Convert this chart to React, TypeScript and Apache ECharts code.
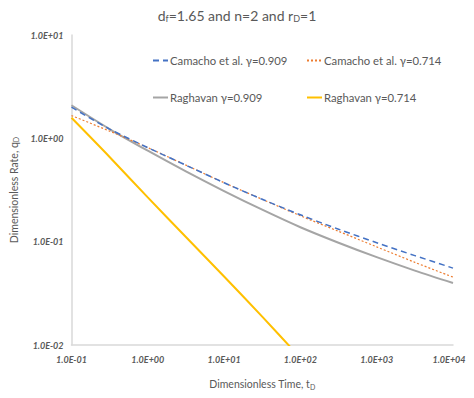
import React, { useEffect, useRef } from "react";
import * as echarts from "echarts";

const times = [0.1, 0.316, 1, 3.16, 10, 31.6, 100, 316, 1000, 3162, 10000];
const camacho909 = [2.0, 1.23, 0.813, 0.55, 0.372, 0.257, 0.182, 0.132, 0.0977, 0.0733, 0.0555];
const camacho714 = [1.66, 1.175, 0.813, 0.55, 0.372, 0.257, 0.178, 0.126, 0.0891, 0.0631, 0.0454];
const raghavan909 = [2.09, 1.23, 0.759, 0.479, 0.309, 0.204, 0.138, 0.0977, 0.0708, 0.0525, 0.0398];
const raghavanTimes = [0.1, 0.316, 1, 3.16, 10, 31.6, 100];
const raghavan714 = [1.58, 0.66, 0.268, 0.111, 0.046, 0.0188, 0.0075];

const names = [
  "Camacho et al. γ=0.909",
  "Camacho et al. γ=0.714",
  "Raghavan γ=0.909",
  "Raghavan γ=0.714",
];

const FONT = "Lato";

function sci(v: number) {
  const e = Math.round(Math.log10(v));
  const sign = e < 0 ? "-" : "+";
  const a = Math.abs(e);
  return "1.0E" + sign + (a < 10 ? "0" + a : String(a));
}

function pairs(xs: number[], ys: number[]) {
  return xs.map((x, i) => [x, ys[i]]);
}

export default function App() {
  const ref = useRef<HTMLDivElement>(null);
  useEffect(() => {
    if (!ref.current) return;
    const chart = echarts.init(ref.current, undefined, { renderer: "svg" });
    const legendText = { fontFamily: FONT, fontSize: 11.3, color: "#595959", padding: [0, 0, 0, -3] };
    const legendPos = [
      { left: 152, top: 55 },
      { left: 306, top: 55 },
      { left: 152, top: 92 },
      { left: 306, top: 92 },
    ];
    const labelFont = {
      fontFamily: FONT,
      fontSize: 9,
      fontStyle: "italic",
      fontWeight: "bold",
      color: "#595959",
    };
    chart.setOption({
      animation: false,
      backgroundColor: "#ffffff",
      title: {
        text: "d{sub|f}=1.65 and n=2 and r{sub|D}=1",
        left: "center",
        top: 3,
        textStyle: {
          fontFamily: FONT,
          fontSize: 14,
          fontWeight: "normal",
          color: "#595959",
          rich: {
            sub: { fontFamily: FONT, fontSize: 9, color: "#595959", verticalAlign: "bottom", padding: [6, 0, 0, 0] },
          },
        },
      },
      legend: legendPos.map((p, i) => ({
        data: [names[i]],
        left: p.left,
        top: p.top,
        padding: 0,
        itemWidth: 15,
        itemHeight: 10,
        itemGap: 0,
        itemStyle: { opacity: 0 },
        textStyle: legendText,
      })),
      grid: { left: 63, right: 21, top: 35, bottom: 53 },
      xAxis: {
        type: "log",
        logBase: 10,
        min: 0.1,
        max: 10000,
        name: "Dimensionless Time, t{sub|D}",
        nameLocation: "middle",
        nameGap: 33,
        nameTextStyle: {
          fontFamily: FONT,
          fontSize: 10.5,
          color: "#595959",
          rich: { sub: { fontFamily: FONT, fontSize: 7, color: "#595959", padding: [5, 0, 0, 0] } },
        },
        axisLine: { lineStyle: { color: "#d9d9d9", width: 1.5 } },
        axisTick: { show: false },
        splitLine: { show: false },
        minorTick: { show: false },
        axisLabel: {
          ...labelFont,
          margin: 10,
          showMaxLabel: true,
          formatter: (v: number) => (v >= 9999 ? "{last|" + sci(v) + "}" : sci(v)),
          rich: { last: { ...labelFont, padding: [0, 8, 0, 0] } },
        },
      },
      yAxis: {
        type: "log",
        logBase: 10,
        min: 0.01,
        max: 10,
        name: "Dimensionless Rate, q{sub|D}",
        nameLocation: "middle",
        nameGap: 47,
        nameRotate: 90,
        nameTextStyle: {
          fontFamily: FONT,
          fontSize: 10.5,
          color: "#595959",
          rich: { sub: { fontFamily: FONT, fontSize: 7, color: "#595959", padding: [5, 0, 0, 0] } },
        },
        axisLine: { show: true, lineStyle: { color: "#d9d9d9", width: 1.5 } },
        axisTick: { show: false },
        splitLine: { show: false },
        axisLabel: { ...labelFont, margin: 8, formatter: (v: number) => sci(v) },
      },
      series: [
        {
          name: names[0],
          type: "line",
          data: pairs(times, camacho909),
          smooth: 0.3,
          showSymbol: false,
          symbol: "none",
          lineStyle: { color: "#4472C4", width: 1.5, type: [6, 4] },
          itemStyle: { color: "#4472C4" },
          z: 4,
        },
        {
          name: names[1],
          type: "line",
          data: pairs(times, camacho714),
          smooth: 0.3,
          showSymbol: false,
          symbol: "none",
          lineStyle: { color: "#ED7D31", width: 1.2, type: [2, 2] },
          itemStyle: { color: "#ED7D31" },
          z: 3,
        },
        {
          name: names[2],
          type: "line",
          data: pairs(times, raghavan909),
          smooth: 0.3,
          showSymbol: false,
          symbol: "none",
          lineStyle: { color: "#A5A5A5", width: 2 },
          itemStyle: { color: "#A5A5A5" },
          z: 2,
        },
        {
          name: names[3],
          type: "line",
          data: pairs(raghavanTimes, raghavan714),
          smooth: 0.3,
          showSymbol: false,
          symbol: "none",
          clip: true,
          lineStyle: { color: "#FFC000", width: 2 },
          itemStyle: { color: "#FFC000" },
          z: 2,
        },
      ],
    });
    return () => chart.dispose();
  }, []);
  return <div ref={ref} style={{ width: 474, height: 398, margin: -8 }} />;
}
